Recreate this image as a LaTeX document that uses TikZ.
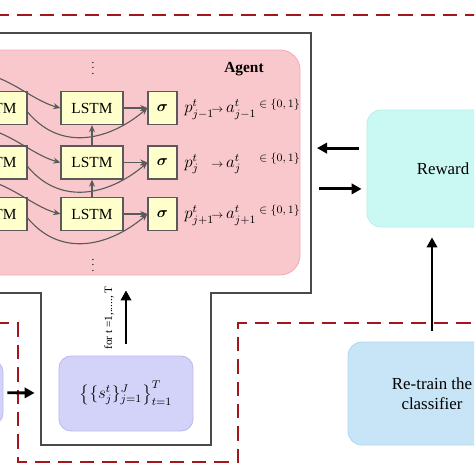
\documentclass[tikz,border=0pt,11pt]{standalone}
\usepackage{amsmath, amssymb}
\usepackage{fontspec}
\setmainfont{Liberation Serif}
\usetikzlibrary{arrows.meta, positioning, calc}
\definecolor{RLpink}{HTML}{F9C8CD}
\definecolor{RLpinkD}{HTML}{F2ABB3}
\definecolor{RLyellow}{HTML}{FFFFCC}
\definecolor{RLgray}{HTML}{5A5A5A}
\definecolor{RLframe}{HTML}{4A4A4A}
\definecolor{RLlav}{HTML}{D3D3FA}
\definecolor{RLlavD}{HTML}{BABAEE}
\definecolor{RLcyan}{HTML}{CAF9F3}
\definecolor{RLcyanD}{HTML}{B6F0E9}
\definecolor{RLblue}{HTML}{C8E5F8}
\definecolor{RLblueD}{HTML}{AFD6F2}
\definecolor{RLred}{HTML}{A3161C}
\tikzset{
  rlbox/.style={
    rectangle, rounded corners=3.5mm, line width=0.6pt, align=center,
    text=black, font=\large, inner sep=2pt},
  rlagent/.style={rlbox, rounded corners=5mm, fill=RLpink, draw=RLpinkD},
  rllstm/.style={rectangle, draw=RLgray, fill=RLyellow, line width=0.8pt,
    minimum width=15.5mm, minimum height=8.25mm, inner sep=0pt, font=\normalsize},
  rlsig/.style={rllstm, minimum width=7.25mm},
  rlarr/.style={-{Stealth[length=1.8mm,width=1.5mm]}, line width=0.8pt, draw=RLgray},
  rlblk/.style={-{Triangle[length=2.5mm,width=2.6mm]}, line width=2pt, draw=black},
  rldash/.style={draw=RLred, line width=1.6pt, dash pattern=on 3.6mm off 2mm},
  rlframe/.style={draw=RLframe, line width=0.9pt},
  rlptxt/.style={anchor=west, inner sep=0pt, font=\large},
}
\begin{document}
\begin{tikzpicture}[x=0.25mm, y=-0.25mm]
  \useasboundingbox (0,0) rectangle (474,474);
  \clip (0,0) rectangle (474,474);
  %% Group borders
  \draw[rldash] (-5,15) -- (480,15);
  \draw[rldash] (-5,323) -- (18,323) -- (18,462) -- (238,462) -- (238,323) -- (480,323);
  %% Frame round the agent
  \coordinate (fTL) at (-20,33);
  \coordinate (fTR) at (311,33);
  \coordinate (fBR) at (311,293);
  \coordinate (stR) at (211,293);
  \coordinate (stBR) at (211,445);
  \coordinate (stBL) at (41,445);
  \coordinate (stL) at (41,293);
  \coordinate (fBL) at (-20,293);
  \coordinate (fR) at (311,168.5);
  \draw[rlframe] (fTL) -- (fTR) -- (fBR) -- (stR) -- (stBR) -- (stBL) -- (stL) -- (fBL);
  %% Agent
  \node[rlagent, minimum width=90mm, minimum height=56.25mm] (agent) at (120,162.5) {};
  \node[font=\normalsize\bfseries] (agentlbl) at (244,69) {Agent};
  \node[font=\scriptsize] (dotsT) at (93,64) {$\vdots$};
  \node[font=\scriptsize] (dotsB) at (93,261) {$\vdots$};
  \foreach \r/\y/\sub in {1/108/j-1, 2/162.5/j, 3/214/j+1} {
    \node[rllstm] (l\r) at (-4,\y) {LSTM};
    \node[rllstm] (m\r) at (92,\y) {LSTM};
    \node[rlsig] (s\r) at (162.5,\y) {$\boldsymbol{\sigma}$};
    \coordinate (in\r) at (-30,\y-36);
    \node[rlptxt] (p\r) at (184,\y+1)
      {\makebox[6.8mm][l]{$p^t_{\sub}$}$\scriptstyle\rightarrow$\,\makebox[8.3mm][l]{$a^t_{\sub}$}\raisebox{1.4mm}{\scriptsize$\in\{0,1\}$}};
    \draw[rlarr] (in\r) .. controls +(35,0) and +(-30,-8) .. (m\r.west);
    \draw[rlarr] ([yshift=-1mm]l\r.east) .. controls +(35,42) and +(-35,30) .. (s\r.west);
    \draw[rlarr] (m\r) -- (s\r);
  }
  \draw[rlarr] (m3) -- (m2);
  \draw[rlarr] (m2) -- (m1);
  %% Environment side
  \node[rlbox, fill=RLcyan, draw=RLcyanD, minimum width=38mm, minimum height=29.25mm] (reward)
        at (443,168.5) {Reward};
  \node[rlbox, fill=RLblue, draw=RLblueD, minimum width=42mm, minimum height=25.75mm] (retrain)
        at (432,393.5) {Re-train the\\classifier};
  %% States
  \node[rlbox, rounded corners=3mm, fill=RLlav, draw=RLlavD, minimum width=21.5mm, minimum height=16.25mm] (prev)
        at (-40,392.5) {};
  \node[rlbox, rounded corners=3mm, fill=RLlav, draw=RLlavD, minimum width=33.5mm, minimum height=18.75mm] (sset)
        at (126,393.5) {$\left\{\{s^t_j\}_{j=1}^{J}\right\}_{t=1}^{T}$};
  \node[rotate=90, font=\scriptsize] (fort) at (109,318) {for t =1,....., T};
  %% Arrows
  \draw[rlblk, shorten <=1mm, shorten >=6mm] (prev) -- (sset);
  \draw[rlblk, shorten <=3mm, shorten >=3.75mm] (sset.north) -- (sset.north |- agent.south);
  \draw[rlblk, shorten <=2mm, shorten >=1.5mm] ([yshift=5.1mm]reward.west) -- ([yshift=5.1mm]fR);
  \draw[rlblk, shorten <=2mm, shorten >=1.25mm] ([yshift=-5.1mm]fR) -- ([yshift=-5.1mm]reward.west);
  \draw[rlblk, shorten <=2.75mm, shorten >=2.5mm] (retrain.north) -- (retrain.north |- reward.south);
\end{tikzpicture}
\end{document}
